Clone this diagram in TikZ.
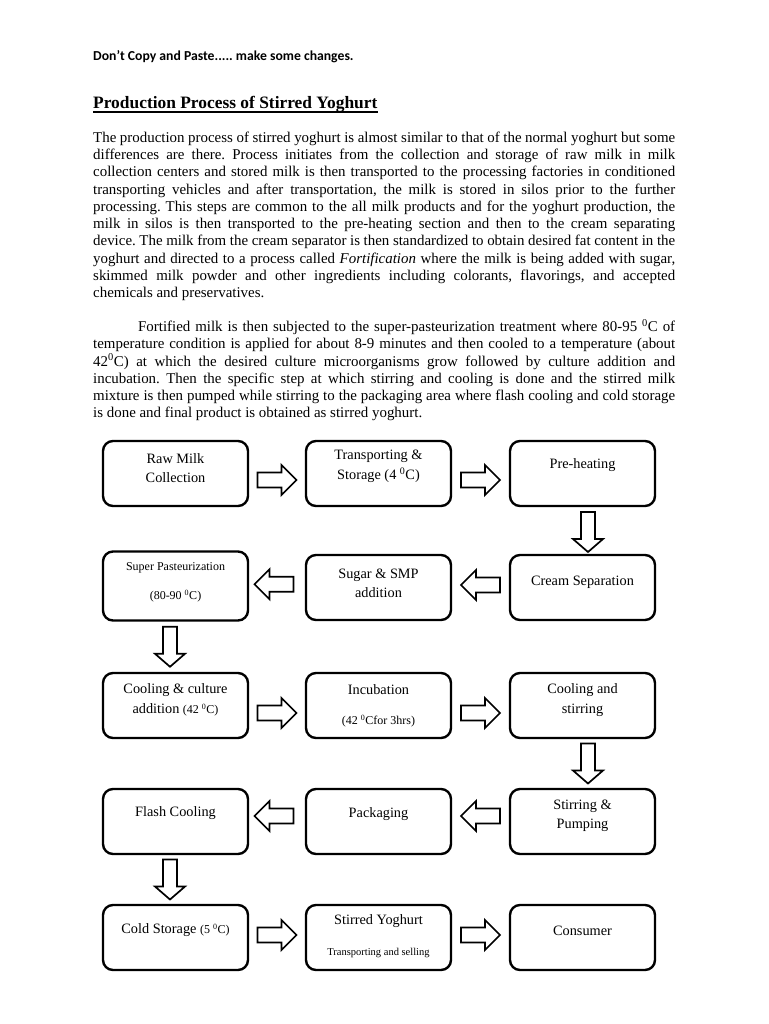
\documentclass[tikz,border=0pt]{standalone}
\usepackage{fontspec}
\setmainfont{Liberation Serif}
\newfontfamily\calibfont{Carlito}
\usetikzlibrary{calc}
\frenchspacing
\newcommand{\degs}{\textsuperscript{0}}
\tikzset{
  box/.style={draw=black, line width=2.4pt, rounded corners=10pt, minimum width=145pt, minimum height=65pt, inner sep=0pt},
  lbl/.style={align=center, inner sep=0pt, font=\fontsize{14.3}{19.5}\selectfont},
  lblsmall/.style={align=center, inner sep=0pt, font=\fontsize{12}{14}\selectfont},
  lbltiny/.style={align=center, inner sep=0pt, font=\fontsize{10.5}{12}\selectfont},
  blockarrow/.style={draw=black, line width=1.7pt, fill=white, line join=miter, miter limit=10},
  pics/rarrow/.style={code={\draw[blockarrow] (-19.5,-7.5) -- (4.5,-7.5) -- (4.5,-15) -- (19.5,0) -- (4.5,15) -- (4.5,7.5) -- (-19.5,7.5) -- cycle;}},
  pics/larrow/.style={code={\draw[blockarrow] (19.5,-7.5) -- (-4.5,-7.5) -- (-4.5,-15) -- (-19.5,0) -- (-4.5,15) -- (-4.5,7.5) -- (19.5,7.5) -- cycle;}},
  pics/darrow/.style={code={\draw[blockarrow] (-7,-20) -- (7,-20) -- (7,7) -- (15,7) -- (0,20) -- (-15,7) -- (-7,7) -- cycle;}},
}
\begin{document}
\begin{tikzpicture}[x=1pt,y=-1pt]
\fill[white] (0,0) rectangle (768,1024);
\useasboundingbox (0,0) rectangle (768,1024);

% header
\node[anchor=base west, inner sep=0pt, font=\calibfont\bfseries\fontsize{13.7}{16}\selectfont] (warn) at (93,60.5) {Don’t Copy and Paste..... make some changes.};
\node[anchor=base west, inner sep=0pt, font=\bfseries\fontsize{17.4}{20}\selectfont] (title) at (93,108.5) {Production Process of Stirred Yoghurt};
\draw[line width=1.3pt] ($(title.base west)+(0,3.5)$) -- ($(title.base east)+(0,3.5)$);

% paragraph 1
\node[anchor=base west, inner sep=0pt, font=\fontsize{14.92}{17.25}\selectfont] (para1) at (93,142.5) {\vtop{%
\hbox to 582pt{The production process of stirred yoghurt is almost similar to that of the normal yoghurt but some}
\hbox to 582pt{differences are there. Process initiates from the collection and storage of raw milk in milk}
\hbox to 582pt{collection centers and stored milk is then transported to the processing factories in conditioned}
\hbox to 582pt{transporting vehicles and after transportation, the milk is stored in silos prior to the further}
\hbox to 582pt{processing. This steps are common to the all milk products and for the yoghurt production, the}
\hbox to 582pt{milk in silos is then transported to the pre-heating section and then to the cream separating}
\hbox to 582pt{device. The milk from the cream separator is then standardized to obtain desired fat content in the}
\hbox to 582pt{yoghurt and directed to a process called \textit{Fortification} where the milk is being added with sugar,}
\hbox to 582pt{skimmed milk powder and other ingredients including colorants, flavorings, and accepted}
\hbox{chemicals and preservatives.}}};

% paragraph 2
\node[anchor=base west, inner sep=0pt, font=\fontsize{14.92}{17.25}\selectfont] (para2) at (93,331.5) {\vtop{%
\hbox to 582pt{\kern45pt Fortified milk is then subjected to the super-pasteurization treatment where 80-95 \degs C of}
\hbox to 582pt{temperature condition is applied for about 8-9 minutes and then cooled to a temperature (about}
\hbox to 582pt{42\degs C) at which the desired culture microorganisms grow followed by culture addition and}
\hbox to 582pt{incubation. Then the specific step at which stirring and cooling is done and the stirred milk}
\hbox to 582pt{mixture is then pumped while stirring to the packaging area where flash cooling and cold storage}
\hbox{is done and final product is obtained as stirred yoghurt.}}};

% boxes
\node[box] (b1) at (175.5,473.5) {};
\node[box] (b2) at (378.5,473.5) {};
\node[box] (b3) at (582.5,473.5) {};
\node[box] (b4) at (582.5,587.5) {};
\node[box] (b5) at (378.5,587.5) {};
\node[box, minimum height=69pt] (b6) at (175.5,586) {};
\node[box] (b7) at (175.5,705.5) {};
\node[box] (b8) at (378.5,705.5) {};
\node[box] (b9) at (582.5,705.5) {};
\node[box] (b10) at (582.5,821.5) {};
\node[box] (b11) at (378.5,821.5) {};
\node[box] (b12) at (175.5,821.5) {};
\node[box] (b13) at (175.5,937.5) {};
\node[box] (b14) at (378.5,937.5) {};
\node[box] (b15) at (582.5,937.5) {};

% labels
\node[lbl] (t1) at ($(b1.center)+(0,-5.5)$) {Raw Milk\\Collection};
\node[lbl] (t2) at ($(b2.center)+(0,-7)$) {Transporting \&\\Storage (4 \degs C)};
\node[lbl] (t3) at ($(b3.center)+(0,-8.5)$) {Pre-heating};
\node[lbl] (t4) at ($(b4.center)+(0,-5.5)$) {Cream Separation};
\node[lbl] (t5) at ($(b5.center)+(0,-4)$) {Sugar \& SMP\\addition};
\node[lblsmall] (t6a) at (175.5,568) {Super Pasteurization};
\node[lblsmall] (t6b) at (175.5,596) {(80-90 \degs C)};
\node[lbl] (t7) at ($(b7.center)+(0,-5.5)$) {Cooling \& culture\\addition {\fontsize{12}{14}\selectfont(42 \degs C)}};
\node[lbl] (t8a) at ($(b8.center)+(0,-15.5)$) {Incubation};
\node[lblsmall] (t8b) at ($(b8.center)+(0,15.5)$) {(42 \degs Cfor 3hrs)};
\node[lbl] (t9) at ($(b9.center)+(0,-5.5)$) {Cooling and\\stirring};
\node[lbl] (t10) at ($(b10.center)+(0,-5.5)$) {Stirring \&\\Pumping};
\node[lbl] (t11) at ($(b11.center)+(0,-7.5)$) {Packaging};
\node[lbl] (t12) at ($(b12.center)+(0,-8.5)$) {Flash Cooling};
\node[lbl] (t13) at ($(b13.center)+(0,-7.5)$) {Cold Storage {\fontsize{12}{14}\selectfont(5 \degs C)}};
\node[lbl] (t14a) at ($(b14.center)+(0,-16.5)$) {Stirred Yoghurt};
\node[lbltiny] (t14b) at ($(b14.center)+(0,15.5)$) {Transporting and selling};
\node[lbl] (t15) at ($(b15.center)+(0,-6.5)$) {Consumer};

% arrows
\path ($(b1.east)!0.5!(b2.west)$) ++(0,6.5) pic {rarrow};
\path ($(b2.east)!0.5!(b3.west)$) ++(0,6.5) pic {rarrow};
\path ($(b3.south)!0.5!(b4.north)$) ++(5.5,1.5) pic {darrow};
\path ($(b4.west)!0.5!(b5.east)$) ++(0,-2.5) pic {larrow};
\path ($(b5.west)!0.5!(b6.east)$) ++(-3,-2.5) pic {larrow};
\path ($(b6.south)!0.5!(b7.north)$) ++(-5.5,0) pic {darrow};
\path ($(b7.east)!0.5!(b8.west)$) ++(0,7.5) pic {rarrow};
\path ($(b8.east)!0.5!(b9.west)$) ++(0,7.5) pic {rarrow};
\path ($(b9.south)!0.5!(b10.north)$) ++(5.5,0) pic {darrow};
\path ($(b10.west)!0.5!(b11.east)$) ++(0,-5.5) pic {larrow};
\path ($(b11.west)!0.5!(b12.east)$) ++(-3,-5.5) pic {larrow};
\path ($(b12.south)!0.5!(b13.north)$) ++(-5.5,0) pic {darrow};
\path ($(b13.east)!0.5!(b14.west)$) ++(0,-2.5) pic {rarrow};
\path ($(b14.east)!0.5!(b15.west)$) ++(0,-2.5) pic {rarrow};
\end{tikzpicture}
\end{document}
